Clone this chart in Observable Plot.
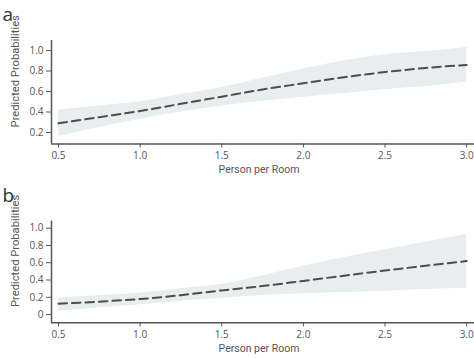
<!DOCTYPE html>
<html><head><meta charset="utf-8">
<script src="https://cdn.jsdelivr.net/npm/d3@7"></script>
<script src="https://cdn.jsdelivr.net/npm/@observablehq/plot@0.6"></script>
<style>
body{margin:0;background:#fff;}
#wrap{width:474px;height:358px;overflow:hidden;}
#wrap svg{display:block;}
</style></head><body>
<div id="wrap"></div>
<script>
const personPerRoom = [0.5, 0.75, 1.0, 1.25, 1.5, 1.75, 2.0, 2.25, 2.5, 2.75, 3.0];
const fitA   = [0.29, 0.35, 0.41, 0.48, 0.55, 0.62, 0.68, 0.74, 0.79, 0.83, 0.86];
const upperA = [0.42, 0.46, 0.50, 0.57, 0.64, 0.73, 0.82, 0.90, 0.96, 0.99, 1.03];
const lowerA = [0.16, 0.25, 0.33, 0.40, 0.46, 0.505, 0.545, 0.58, 0.62, 0.65, 0.69];
const fitB   = [0.125, 0.15, 0.18, 0.225, 0.28, 0.33, 0.39, 0.45, 0.51, 0.565, 0.62];
const upperB = [0.19, 0.22, 0.25, 0.30, 0.35, 0.45, 0.56, 0.66, 0.75, 0.84, 0.93];
const lowerB = [0.04, 0.08, 0.115, 0.155, 0.19, 0.22, 0.24, 0.255, 0.27, 0.29, 0.305];
const xTicks = [0.5, 1.0, 1.5, 2.0, 2.5, 3.0];
const yTicksA = [0.2, 0.4, 0.6, 0.8, 1.0];
const yTicksB = [0, 0.2, 0.4, 0.6, 0.8, 1.0];
const panelLabels = ["a", "b"];
const xLabel = "Person per Room";
const yLabel = "Predicted Probabilities";

const FONT = '"Open Sans", sans-serif';
const LABEL_FONT = 'Roboto, "Open Sans", sans-serif';
const INK = "#555";
const xDomain = [0.457, 3.048];
const fmt = d => d === 0 ? "0" : d.toFixed(1);

function panel({tag, fit, upper, lower, yDomain, yTicks, height, marginTop, marginBottom, tagDy}) {
  const rows = personPerRoom.map((x, i) => ({x, fit: fit[i], lo: lower[i], hi: upper[i]}));
  return Plot.plot({
    width: 474, height, marginLeft: 51, marginRight: 0, marginTop, marginBottom,
    x: {domain: xDomain},
    y: {domain: yDomain},
    style: {fontFamily: FONT, fontSize: "10px", color: INK, background: "#fff"},
    marks: [
      Plot.areaY(rows, {x: "x", y1: "lo", y2: "hi", fill: "#e9eded", curve: "monotone-x"}),
      Plot.lineY(rows, {x: "x", y: "fit", stroke: "#4d4d4d", strokeWidth: 2, strokeDasharray: "8.5,5", curve: "monotone-x"}),
      Plot.ruleX([xDomain[0]], {stroke: INK, strokeWidth: 1.5}),
      Plot.ruleY([yDomain[0]], {stroke: INK, strokeWidth: 1.5}),
      Plot.axisX({ticks: xTicks, tickFormat: fmt, tickSize: 4, tickPadding: 4, label: null, stroke: INK, fill: INK}),
      Plot.axisY({ticks: yTicks, tickFormat: fmt, tickSize: 5, tickPadding: 3, label: null, stroke: INK, fill: INK}),
      Plot.text([xLabel], {frameAnchor: "bottom", dx: -4, dy: 29, fontSize: 10.5, fontFamily: LABEL_FONT, fill: INK}),
      Plot.text([yLabel], {frameAnchor: "left", textAnchor: "middle", lineAnchor: "middle", rotate: -90, dx: -36, dy: -21, fontSize: 11.2, fontFamily: LABEL_FONT, fill: INK}),
      Plot.text([tag], {frameAnchor: "top-left", dx: -49, dy: tagDy, textAnchor: "start", lineAnchor: "middle", fontSize: 19, fill: "#333"})
    ]
  });
}

const wrap = document.getElementById("wrap");
wrap.append(panel({tag: panelLabels[0], fit: fitA, upper: upperA, lower: lowerA,
  yDomain: [0.088, 1.098], yTicks: yTicksA, height: 178, marginTop: 40, marginBottom: 34.5, tagDy: -26}));
wrap.append(panel({tag: panelLabels[1], fit: fitB, upper: upperB, lower: lowerB,
  yDomain: [-0.095, 1.083], yTicks: yTicksB, height: 180, marginTop: 42.5, marginBottom: 35.7, tagDy: -25}));
</script>
</body></html>
